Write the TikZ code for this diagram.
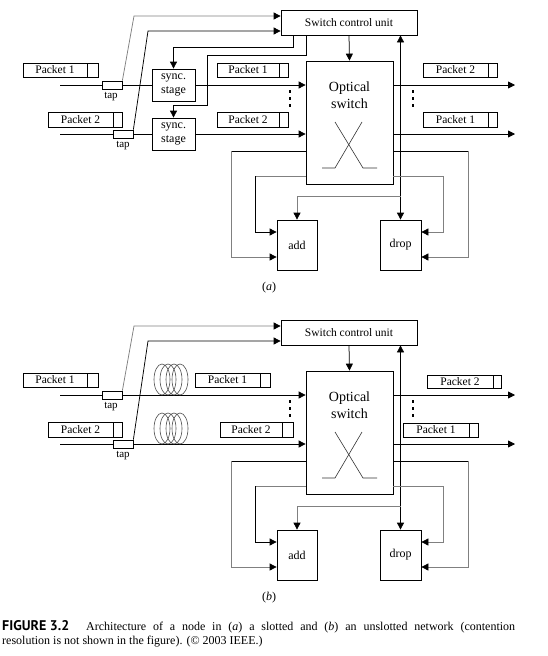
\documentclass[tikz,border=0pt]{standalone}
\usepackage{fontspec}
\setmainfont{Liberation Serif}
\newfontfamily\capsf{PT Sans}
\usetikzlibrary{arrows.meta}

\tikzset{
  ln/.style={line width=0.75pt, black},
  gl/.style={line width=0.75pt, black!50},
  xl/.style={line width=0.6pt, black!80},
  coil/.style={line width=0.6pt, black!70},
  arr/.style={-{Triangle[length=7pt,width=7pt,color=black]}},
  arrboth/.style={{Triangle[length=7pt,width=7pt,color=black]}-{Triangle[length=7pt,width=7pt,color=black]}},
  bx/.style={draw, line width=0.75pt, inner sep=0pt},
  pktfont/.style={font=\fontsize{11.5}{13}\selectfont},
  lbl/.style={font=\fontsize{11}{12}\selectfont, inner sep=0pt},
  dotmark/.style={fill=black}
}

% name, x1, xdivider, x2, y1, y2, text
\newcommand\pkt[7]{%
  \node[bx, pktfont, minimum width={(#3-#2)*1pt}, minimum height={(#6-#5)*1pt}]
    (#1) at ({(#2+#3)/2},{(#5+#6)/2}) {#7};
  \node[bx, minimum width={(#4-#3)*1pt}, minimum height={(#6-#5)*1pt}]
    (#1t) at ({(#3+#4)/2},{(#5+#6)/2}) {};
}

\newcommand\common[2]{%
  % input packets
  \pkt{ipa#1}{23}{87}{98}{63}{77}{Packet 1}
  \pkt{ipb#1}{48}{113}{122}{112}{127}{Packet 2}
  % input fibres and taps
  \coordinate (sa#1) at (60,85);
  \coordinate (sb#1) at (60,134);
  \node[bx, minimum width=20pt, minimum height=8pt] (tapa#1) at (112,85) {};
  \node[bx, minimum width=20pt, minimum height=8pt] (tapb#1) at (123,134) {};
  \node[lbl] (tla#1) at (111,97) {tap};
  \node[lbl] (tlb#1) at (123,146) {tap};
  \draw[ln] (sa#1) -- (tapa#1.west);
  \draw[ln] (sb#1) -- (tapb#1.west);
  % switch control unit
  \node[bx, minimum width=136pt, minimum height=25pt, font=\fontsize{11.5}{13}\selectfont]
    (scu#1) at (349,22.5) {Switch control unit};
  % optical switch
  \node[bx, minimum width=87pt, minimum height=123pt] (osw#1) at (349.5,122.5) {};
  \node[font=\fontsize{14}{17}\selectfont, align=center, inner sep=0pt] (ost#1) at (349.5,95.5) {Optical\\switch};
  \draw[xl] (335,122) -- (363,168) -- (377,168);
  \draw[xl] (362,122) -- (335,168) -- (322,168);
  % taps to control unit
  \draw[gl,arr] (tapa#1.north east) -- (134,16) -- (scu#1.west |- 0,16);
  \draw[ln,arr] (tapb#1.north east) -- (148,31) -- (scu#1.west |- 0,31);
  % control unit to switch
  \draw[ln,arr] (scu#1.south) -- (osw#1.north);
  % outputs
  \coordinate (oa#1) at (515,85);
  \coordinate (ob#1) at (515,134);
  \draw[ln,arr] (osw#1.east |- oa#1) -- (oa#1);
  \draw[ln,arr] (osw#1.east |- ob#1) -- (ob#1);
  % dots
  \fill[dotmark] (289,90) rectangle (291,93);
  \fill[dotmark] (289,97) rectangle (291,100);
  \fill[dotmark] (289,104) rectangle (291,107);
  \fill[dotmark] (412,90) rectangle (414,93);
  \fill[dotmark] (412,97) rectangle (414,100);
  \fill[dotmark] (412,104) rectangle (414,107);
  % add and drop
  \node[bx, minimum width=40pt, minimum height=50pt, font=\fontsize{12}{14}\selectfont] (add#1) at (297,245) {add};
  \node[bx, minimum width=41pt, minimum height=50pt, font=\fontsize{12}{14}\selectfont] (drop#1) at (400.5,245) {drop};
  \draw[ln,arrboth] (drop#1.north) -- (drop#1.north |- scu#1.south);
  \draw[gl,arr] (drop#1.north |- 0,196) -- (add#1.north |- 0,196) -- (add#1.north);
  % loops on the left
  \draw[ln] (osw#1.west |- 0,151) -- (231,151);
  \draw[gl,arr] (231,151) -- (231,257) -- (add#1.west |- 0,257);
  \draw[gl] (osw#1.west |- 0,176) -- (255,176);
  \draw[ln,arr] (255,176) -- (255,232) -- (add#1.west |- 0,232);
  % loops on the right
  \draw[ln] (osw#1.east |- 0,151) -- (468,151);
  \draw[gl,arr] (468,151) -- (468,257) -- (drop#1.east |- 0,257);
  \draw[gl] (osw#1.east |- 0,176) -- (443,176);
  \draw[gl,arr] (443,176) -- (443,232) -- (drop#1.east |- 0,232);
  % panel label
  \node[font=\fontsize{12}{14}\selectfont, inner sep=0pt] (pl#1) at (269,288) {(\textit{#2})};
}

\begin{document}
\begin{tikzpicture}[x=1pt,y=-1pt]
\useasboundingbox (0,0) rectangle (548,656);

% ---------------- panel (a)
\common{A}{a}
\node[bx, minimum width=43pt, minimum height=32pt, align=center, font=\fontsize{12}{14}\selectfont] (sya) at (173.5,85) {sync.\\stage};
\node[bx, minimum width=43pt, minimum height=32pt, align=center, font=\fontsize{12}{14}\selectfont] (syb) at (173.5,134) {sync.\\stage};
\draw[ln] (tapaA.east) -- (sya.west);
\draw[ln] (tapbA.east) -- (syb.west);
\draw[ln,arr] (sya.east) -- (oswA.west |- sya.east);
\draw[ln,arr] (syb.east) -- (oswA.west |- syb.east);
\draw[ln,arr] (scuA.south -| 293,0) -- (293,47) -- (sya.north |- 0,47) -- (sya.north);
\draw[ln,arr] (scuA.south -| 306,0) -- (306,55) -- (207,55) -- (207,105) -- (syb.north |- 0,105) -- (syb.north);
\pkt{mpaA}{217}{279}{288}{63}{77}{Packet 1}
\pkt{mpbA}{217}{279}{288}{112}{127}{Packet 2}
\pkt{opbA}{423}{488}{497}{63}{77}{Packet 2}
\pkt{opaA}{423}{488}{497}{112}{127}{Packet 1}

% ---------------- panel (b)
\begin{scope}[yshift=-310pt]
\common{B}{b}
\draw[ln,arr] (tapaB.east) -- (oswB.west |- tapaB.east);
\draw[ln,arr] (tapbB.east) -- (oswB.west |- tapbB.east);
\foreach \cx in {162,168,174,180}{
  \draw[coil] (\cx,69.5) ellipse [x radius=8pt, y radius=15.5pt];
  \draw[coil] (\cx,118.5) ellipse [x radius=8pt, y radius=15.5pt];
}
\pkt{mpaB}{195}{260}{270}{63}{77}{Packet 1}
\pkt{mpbB}{220}{282}{293}{112}{127}{Packet 2}
\pkt{opbB}{427}{493}{501}{65}{78}{Packet 2}
\pkt{opaB}{403}{469}{478}{113}{127}{Packet 1}
\end{scope}

% ---------------- caption
\node[anchor=base west, inner sep=0pt, font=\capsf\bfseries\fontsize{14}{16}\selectfont] (fig) at (2,630) {FIGURE 3.2};
\node[anchor=base west, inner sep=0pt, font=\fontsize{12}{14}\selectfont] (capa) at (86,630) {\makebox[429pt][s]{Architecture of a node in (\textit{a}) a slotted and (\textit{b}) an unslotted network (contention}};
\node[anchor=base west, inner sep=0pt, font=\fontsize{12}{14}\selectfont] (capb) at (2,644) {resolution is not shown in the figure). (© 2003 IEEE.)};
\end{tikzpicture}
\end{document}
